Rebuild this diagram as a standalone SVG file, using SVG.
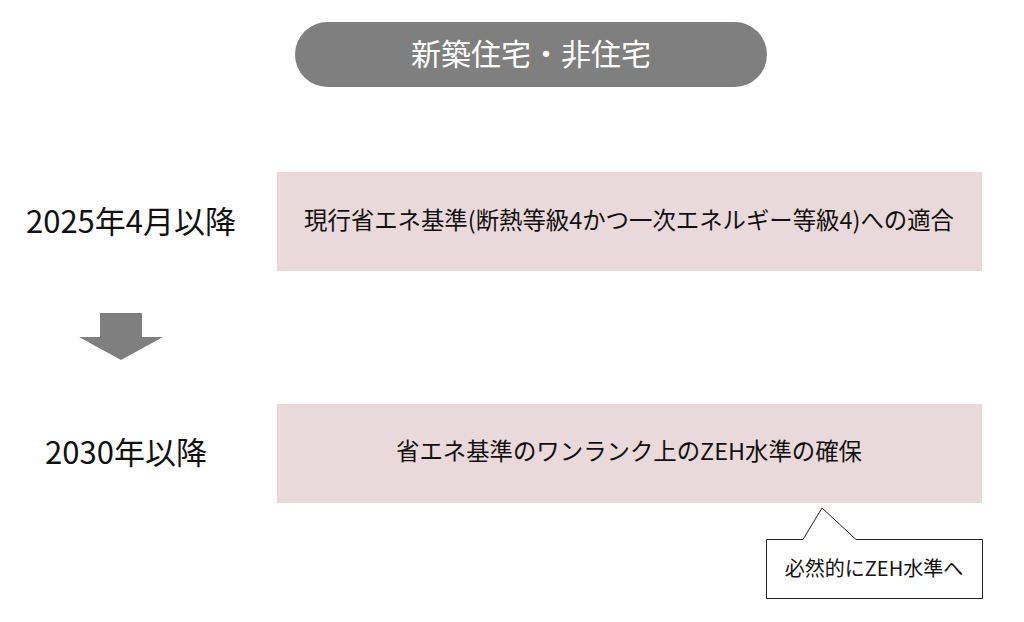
<svg xmlns="http://www.w3.org/2000/svg" width="1024" height="622" viewBox="0 0 1024 622">
<style>
text{font-family:"Noto Sans CJK JP","Noto Sans",sans-serif;text-anchor:middle;dominant-baseline:central;fill:#111}
.box{fill:#ead9da}
.lbl{font-size:31px}
.bt{font-size:23.4px}
</style>
<rect width="1024" height="622" fill="#fff"/>
<g id="title">
<rect x="295" y="22" width="472" height="65" rx="32.5" fill="#7f7f7f"/>
<text x="531" y="52" style="font-size:30px;fill:#fff">新築住宅・非住宅</text>
</g>
<g id="label2025"><text class="lbl" x="131" y="219">2025年4月以降</text></g>
<g id="label2030"><text class="lbl" x="126" y="450">2030年以降</text></g>
<g id="box1">
<rect class="box" x="277" y="172" width="705" height="99"/>
<text class="bt" x="629" y="219">現行省エネ基準(断熱等級4かつ一次エネルギー等級4)への適合</text>
</g>
<g id="box2">
<rect class="box" x="277" y="404" width="705" height="99"/>
<text class="bt" x="629" y="450">省エネ基準のワンランク上のZEH水準の確保</text>
</g>
<g id="connectors">
<polygon points="100,313 142,313 142,337 163,337 121,360 79,337 100,337" fill="#7f7f7f"/>
</g>
<g id="callout">
<path d="M766.5,539.5 H803 L822,508 L856,539.5 H982.5 V598.5 H766.5 Z" fill="#fff" stroke="#222" stroke-width="1"/>
<text x="874" y="567" style="font-size:20px">必然的にZEH水準へ</text>
</g>
</svg>
